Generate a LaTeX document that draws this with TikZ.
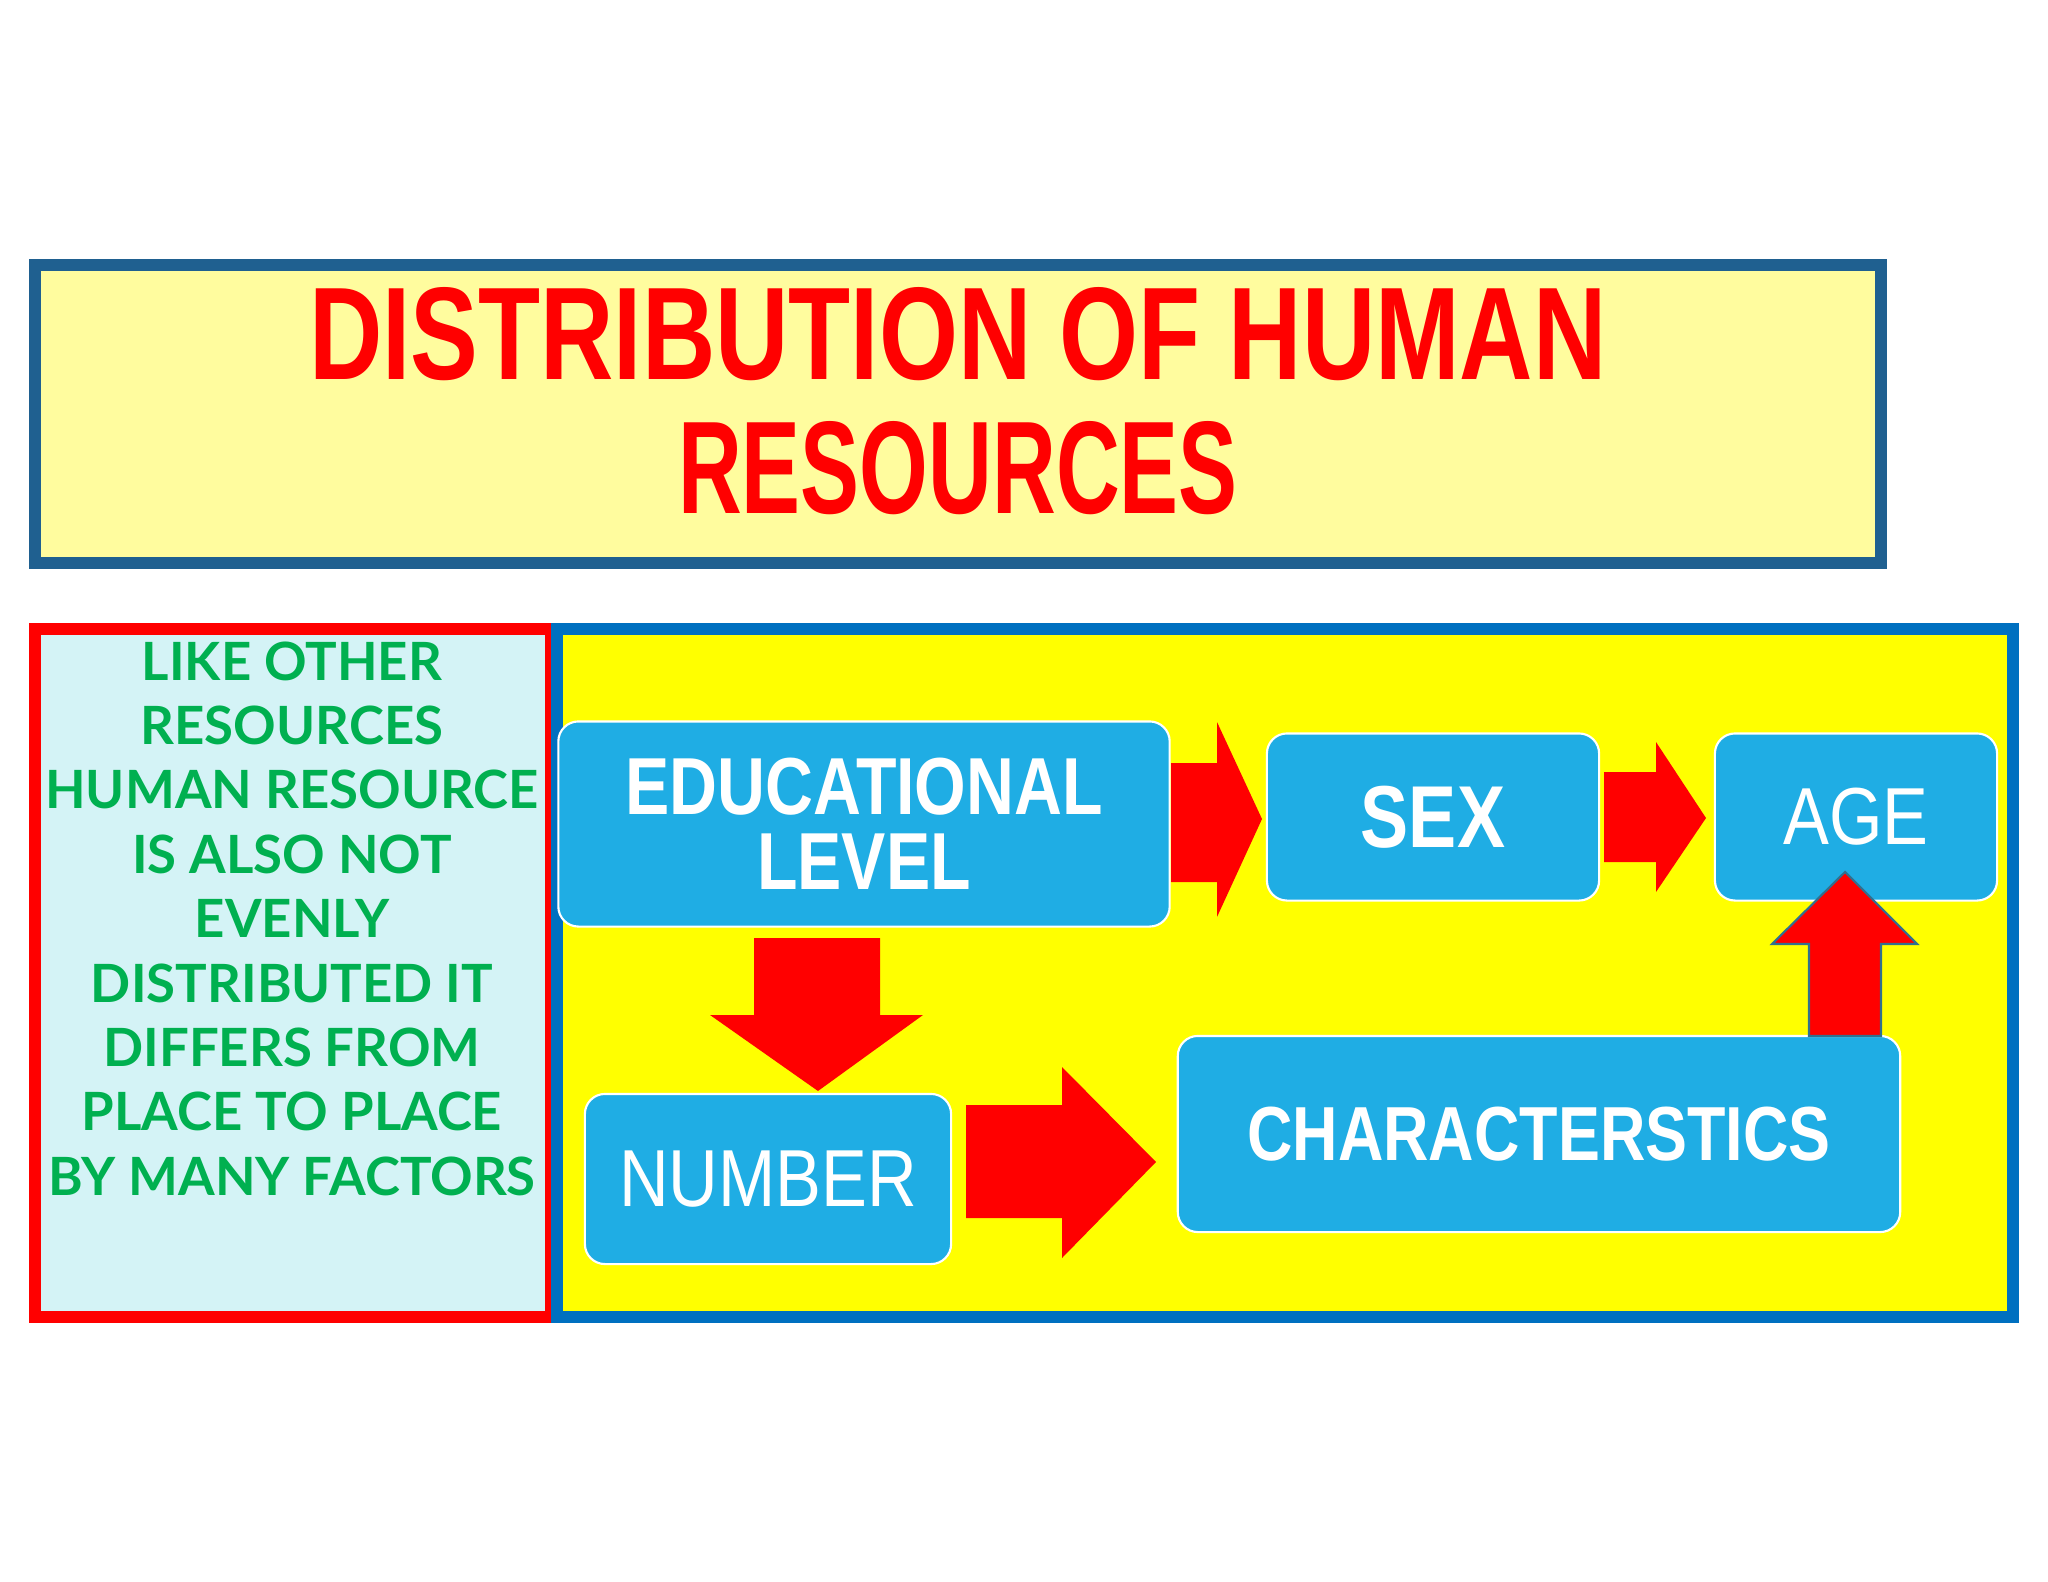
\documentclass[tikz,border=0pt]{standalone}
\usepackage{fontspec}
\setmainfont{Liberation Sans}
\newfontfamily\titlefont[FakeStretch=0.77]{Liberation Sans}
\newfontfamily\boxfont[FakeStretch=0.82]{Liberation Sans}
\newfontfamily\thinfont[FakeStretch=0.85]{Liberation Sans}
\newfontfamily\notefont{Lato}

\definecolor{titleblue}{RGB}{31,96,144}
\definecolor{titlefill}{RGB}{255,252,158}
\definecolor{notefill}{RGB}{212,243,246}
\definecolor{frameblue}{RGB}{0,112,192}
\definecolor{framefill}{RGB}{255,255,0}
\definecolor{boxblue}{RGB}{31,173,228}
\definecolor{notegreen}{RGB}{0,176,80}
\definecolor{arrowedge}{RGB}{49,112,143}
\definecolor{arrowred}{RGB}{255,0,0}

\tikzset{
  bluebox/.style={draw=white, line width=0.6pt, fill=boxblue, rounded corners=0.2cm,
    inner sep=0pt, text=white, align=center},
  redarrow/.style={fill=arrowred},
}

\begin{document}
\begin{tikzpicture}[x=0.01cm,y=-0.01cm]
        \fill[white] (0,0) rectangle (2048,1582);
        \useasboundingbox (0,0) rectangle (2048,1582);
        % titulo
        \draw[line width=3.3pt,draw=titleblue,fill=titlefill] (35,265) rectangle (1881,563);
        \node[text=arrowred,align=center,font=\titlefont\bfseries\fontsize{37.5}{38.1}\selectfont] (title) at (958,401)
          {DISTRIBUTION OF HUMAN\\\scalebox{0.87}[1]{RESOURCES}};
        % marcos
        \draw[line width=3.3pt,draw=arrowred,fill=notefill] (35,629) rectangle (551,1317);
        \draw[line width=3.3pt,draw=frameblue,fill=framefill] (557,629) rectangle (2013,1317);
        \node[anchor=north,inner sep=0pt,align=center,text=notegreen,
          font=\notefont\bfseries\fontsize{15}{18.3}\selectfont] (note) at (292,641)
          {LIKE OTHER\\RESOURCES\\HUMAN RESOURCE\\IS ALSO NOT\\EVENLY\\DISTRIBUTED IT\\DIFFERS FROM\\PLACE TO PLACE\\BY MANY FACTORS};
        % cajas
        \node[bluebox,minimum width=6.11cm,minimum height=2.05cm,
          font=\boxfont\bfseries\fontsize{23}{21.3}\selectfont] (edu) at (864,824) {EDUCATIONAL\\LEVEL};
        \node[bluebox,minimum width=3.32cm,minimum height=1.67cm,
          font=\boxfont\bfseries\fontsize{25}{25}\selectfont] (sex) at (1433,817) {SEX};
        \node[bluebox,minimum width=2.82cm,minimum height=1.67cm,
          font=\thinfont\fontsize{23}{23}\selectfont] (age) at (1856,817) {AGE};
        \node[bluebox,minimum width=3.66cm,minimum height=1.70cm,
          font=\thinfont\fontsize{23}{23}\selectfont] (number) at (768,1179) {NUMBER};
        \node[bluebox,minimum width=7.22cm,minimum height=1.96cm,
          font=\boxfont\bfseries\fontsize{21.8}{21.8}\selectfont] (charac) at (1539,1134) {CHARACTERSTICS};
        % flechas
        \fill[redarrow] (1171,763) -- (1217,763) -- (1217,722) -- (1262,819) -- (1217,917) -- (1217,882) -- (1171,882) -- cycle;
        \fill[redarrow] (1604,772) -- (1656,772) -- (1656,742) -- (1706,818) -- (1656,892) -- (1656,862) -- (1604,862) -- cycle;
        \fill[redarrow] (754,938) -- (880,938) -- (880,1015) -- (923,1015) -- (818,1091) -- (710,1015) -- (754,1015) -- cycle;
        \fill[redarrow] (966,1105) -- (1062,1105) -- (1062,1067) -- (1156,1162) -- (1062,1258) -- (1062,1218) -- (966,1218) -- cycle;
        \draw[redarrow,draw=arrowedge,line width=0.6pt] (1809,1036) -- (1809,944) -- (1772,944) -- (1845,872) -- (1917,944) -- (1881,944) -- (1881,1036) -- cycle;
\end{tikzpicture}
\end{document}
